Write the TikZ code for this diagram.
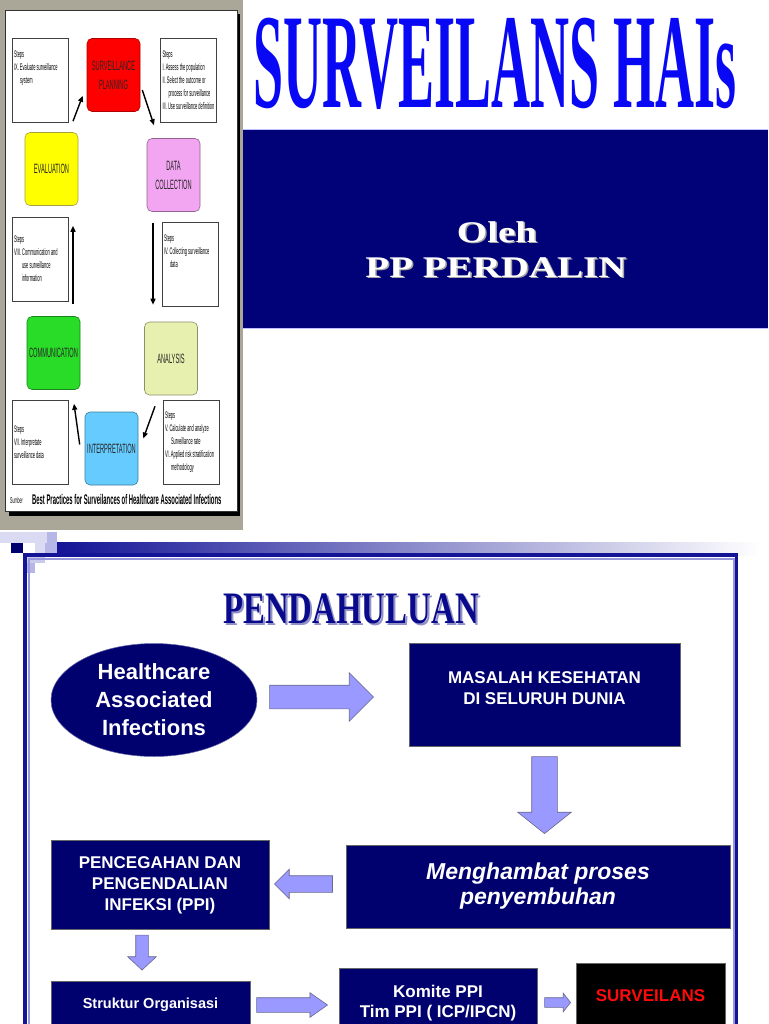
\documentclass[tikz,border=0pt]{standalone}
\usepackage{fontspec}
\setmainfont{Liberation Sans}
\newfontfamily\narrowfont[FakeStretch=0.42]{Liberation Sans}
\newfontfamily\titlefont[FakeStretch=0.4]{Liberation Serif}
\newfontfamily\olehfont[FakeStretch=1.3]{Liberation Serif}
\newfontfamily\headfont[FakeStretch=0.73]{Liberation Serif}
\definecolor{panelGray}{RGB}{170, 166, 152}
\definecolor{slideNavy}{RGB}{0, 0, 110}
\definecolor{bandNavy}{RGB}{2, 2, 120}
\definecolor{frameNavy}{RGB}{20, 20, 150}
\definecolor{frameLilac}{RGB}{150, 150, 220}
\definecolor{titleBlue}{RGB}{8, 8, 245}
\definecolor{headBlue}{RGB}{10, 10, 140}
\definecolor{arrowFill}{RGB}{153, 153, 255}
\definecolor{arrowEdge}{RGB}{105, 105, 140}
\definecolor{survRed}{RGB}{255, 10, 10}
\definecolor{cycRed}{RGB}{255, 0, 0}
\definecolor{cycYellow}{RGB}{255, 255, 0}
\definecolor{cycPink}{RGB}{242, 166, 242}
\definecolor{cycPale}{RGB}{232, 240, 176}
\definecolor{cycGreen}{RGB}{40, 220, 40}
\definecolor{cycBlue}{RGB}{102, 204, 255}
\usepackage{tikz}
\usetikzlibrary{positioning, calc, shapes.geometric, shapes.arrows, arrows.meta}
% text with a drop shadow: offset, shadow colour, text
\newcommand{\castshadow}[3]{\rlap{\kern#1\raisebox{-#1}{\textcolor{#2}{#3}}}#3}
% first line of a steps box, fixes the width of the text block
\newcommand{\stepshead}{\makebox[52pt][l]{Steps}}
\tikzset{
  stepbox/.style={rectangle, draw=black!75, fill=white, line width=0.6pt,
                  minimum width=56pt, minimum height=84pt, inner sep=1pt,
                  align=left, font=\narrowfont\fontsize{9.5}{13}\selectfont},
  cycbox/.style={rectangle, rounded corners=5pt, line width=0.6pt,
                 minimum width=53pt, minimum height=73pt, inner sep=1pt,
                 align=center, text=black!85,
                 font=\narrowfont\fontsize{13.5}{19}\selectfont},
  cycarrow/.style={-{Triangle[length=6pt, width=5pt]}, line width=1.4pt, black},
  navybox/.style={rectangle, draw=black!60, fill=slideNavy, text=white,
                  align=center, inner sep=2pt, line width=0.5pt},
  fatarrow/.style={single arrow, draw=arrowEdge, fill=arrowFill, line width=0.6pt,
                   inner xsep=0pt, single arrow head indent=0pt, anchor=tail},
}
\begin{document}
\begin{tikzpicture}[x=1pt, y=-1pt]
  \useasboundingbox (0,0) rectangle (768,1024);
  \clip (0,0) rectangle (768,1024);
  \fill[white] (0,0) rectangle (768,1024);

  % Left: surveillance cycle
  \fill[panelGray] (0,0) rectangle (243,530);
  \fill[black] (9,14) rectangle (240,516);
  \filldraw[fill=white, draw=black!80, line width=0.5pt] (5,10) rectangle (237,511);

  \node[stepbox] (stepsNine) at (40,80)
       {\stepshead\\IX. Evaluate surveillance\\\hspace*{6pt}system\\\mbox{}\\\mbox{}};
  \node[stepbox] (stepsOne) at (188.5,80)
       {\stepshead\\I. Assess the population\\II. Select the outcome or\\\hspace*{6pt}process for surveillance\\III. Use surveillance definition};
  \node[stepbox] (stepsEight) at (40,259)
       {\stepshead\\VIII. Communication and\\\hspace*{8pt}use surveillance\\\hspace*{8pt}information};
  \node[stepbox] (stepsFour) at (190,264)
       {\stepshead\\IV. Collecting surveillance\\\hspace*{6pt}data\\\mbox{}\\\mbox{}};
  \node[stepbox] (stepsSeven) at (40,442.5)
       {\stepshead\\VII. Interpretate\\surveillance data};
  \node[stepbox] (stepsFive) at (191,442.5)
       {\stepshead\\V. Calculate and analyze\\\hspace*{6pt}Surveillance rate\\VI. Applied risk stratification\\\hspace*{6pt}methodology};

  \node[cycbox, fill=cycRed, draw=red!70!black] (plan) at (113.5,75) {SURVEILLANCE\\PLANNING};
  \node[cycbox, fill=cycYellow, draw=yellow!60!black] (evalu) at (51.5,169) {EVALUATION};
  \node[cycbox, fill=cycPink, draw=cycPink!60!black] (collect) at (173.5,175) {DATA\\COLLECTION};
  \node[cycbox, fill=cycGreen, draw=cycGreen!60!black] (comm) at (53.5,353) {COMMUNICATION};
  \node[cycbox, fill=cycPale, draw=cycPale!60!black] (analyze) at (171,358.5) {ANALYSIS};
  \node[cycbox, fill=cycBlue, draw=cycBlue!60!black] (interp) at (111.5,448.5) {INTERPRETATION};

  % Cycle arrows
  \draw[cycarrow] ([xshift=21.5pt,yshift=11pt]evalu.north) -- ([xshift=-4pt,yshift=16pt]plan.south west);
  \draw[cycarrow] ([xshift=2pt,yshift=-15pt]plan.east) -- ([xshift=-19.5pt,yshift=13pt]collect.north);
  \draw[cycarrow] ([xshift=-20.5pt,yshift=-11pt]collect.south) -- ([xshift=-18pt,yshift=17pt]analyze.north);
  \draw[cycarrow] ([xshift=-16pt,yshift=-11pt]analyze.south) -- ([xshift=5pt,yshift=10pt]interp.east);
  \draw[cycarrow] ([xshift=-5pt,yshift=4pt]interp.west) -- ([xshift=20.5pt,yshift=-14pt]comm.south);
  \draw[cycarrow] ([xshift=19.5pt,yshift=12pt]comm.north) -- ([xshift=21.5pt,yshift=-20pt]evalu.south);

  \node[anchor=base west, inner sep=0, font=\narrowfont\fontsize{8.5}{8.5}\selectfont] (source) at (10,503) {Sumber};
  \node[anchor=base west, inner sep=0, font=\narrowfont\bfseries\fontsize{14}{14}\selectfont] (caption) at (32,504)
       {Best Practices for Surveilances of Healthcare Associated Infections};

  % Top right: title
  \node[anchor=base, inner sep=0, text=titleBlue, font=\titlefont\bfseries\fontsize{135}{135}\selectfont] (title) at (495,108) {SURVEILANS HAIs};
  \fill[bandNavy] (243,130) rectangle (768,328);
  \draw[blue!25, line width=1pt] (243,129.5) -- (768,129.5);
  \draw[blue!25, line width=1pt] (243,328.5) -- (768,328.5);
  \node[anchor=base, inner sep=0, text=white, font=\olehfont\bfseries\fontsize{30}{30}\selectfont] (oleh) at (497,242)
       {\castshadow{1.5pt}{gray!70}{Oleh}};
  \node[anchor=base, inner sep=0, text=white, font=\olehfont\bfseries\fontsize{30}{30}\selectfont] (perdalin) at (496,277)
       {\castshadow{1.5pt}{gray!70}{PP PERDALIN}};

  % Bottom: slide ornament and frame
  \fill[frameLilac!35] (0,532) rectangle (47,543);
  \fill[frameLilac!70] (47,532) rectangle (57,543);
  \fill[slideNavy] (11,543) rectangle (23,553);
  \fill[frameLilac!35] (35,543) rectangle (45,553);
  \fill[frameLilac!70] (45,543) rectangle (57,553);
  \shade[left color=frameNavy, middle color=frameNavy!55, right color=white] (57,542) rectangle (760,555);
  \fill[frameLilac!50] (27,557) rectangle (45,563);
  \fill[frameLilac!70] (27,563) rectangle (35,573);
  \draw[frameNavy, line width=3.5pt] (25,1040) -- (25,555) -- (736.5,555) -- (736.5,1040);
  \draw[frameLilac, line width=2pt] (28.5,1040) -- (28.5,558.5) -- (733.5,558.5) -- (733.5,1040);

  \node[anchor=base, inner sep=0, text=headBlue, font=\headfont\bfseries\fontsize{45}{45}\selectfont] (head) at (351,623)
       {\castshadow{2pt}{frameLilac!80!gray}{PENDAHULUAN}};

  % Flow boxes
  \node[ellipse, fill=slideNavy, draw=slideNavy!60, line width=0.5pt, minimum width=206pt, minimum height=113pt,
        text=white, align=center, font=\bfseries\fontsize{22}{28}\selectfont] (hai) at (154,700)
       {Healthcare\\Associated\\Infections};
  \node[navybox, minimum width=271pt, minimum height=103pt, text depth=12pt,
        font=\bfseries\fontsize{17}{21}\selectfont] (masalah) at (544.5,694.5)
       {MASALAH KESEHATAN\\DI SELURUH DUNIA};
  \node[navybox, minimum width=384pt, minimum height=83pt, font=\bfseries\itshape\fontsize{23}{25}\selectfont] (menghambat) at (538,886.5)
       {Menghambat proses\\penyembuhan};
  \node[navybox, minimum width=218pt, minimum height=89pt, font=\bfseries\fontsize{17}{21}\selectfont] (ppi) at (160,885)
       {PENCEGAHAN DAN\\PENGENDALIAN\\INFEKSI (PPI)};
  \node[navybox, minimum width=199pt, minimum height=48pt, font=\bfseries\fontsize{14.5}{17}\selectfont] (struktur) at (150.5,1005)
       {Struktur Organisasi};
  \node[navybox, minimum width=198pt, minimum height=70pt, font=\bfseries\fontsize{17}{20}\selectfont] (komite) at (438,1003)
       {Komite PPI\\Tim PPI ( ICP/IPCN)};
  \node[rectangle, fill=black, draw=black!60, minimum width=149pt, minimum height=66pt, text=survRed,
        font=\bfseries\fontsize{17}{20}\selectfont] (surv) at (650.5,996) {SURVEILANS};

  % Block arrows
  \node[fatarrow, minimum height=104pt, inner ysep=11.5pt, single arrow head extend=12.5pt,
        single arrow tip angle=90] (toMasalah) at ([xshift=12pt,yshift=3pt]hai.east) {};
  \node[fatarrow, rotate=-90, minimum height=77pt, inner ysep=12.5pt, single arrow head extend=14pt,
        single arrow tip angle=103] (toMenghambat) at ([yshift=-10pt]masalah.south) {};
  \node[fatarrow, rotate=180, minimum height=58pt, inner ysep=8pt, single arrow head extend=6.5pt,
        single arrow tip angle=90] (toPpi) at ([xshift=-13pt,yshift=2.5pt]menghambat.west) {};
  \node[fatarrow, rotate=-90, minimum height=35pt, inner ysep=6pt, single arrow head extend=8pt,
        single arrow tip angle=94] (toStruktur) at ([xshift=-18pt,yshift=-5pt]ppi.south) {};
  \node[fatarrow, minimum height=71pt, inner ysep=7pt, single arrow head extend=5pt,
        single arrow tip angle=70] (toKomite) at ([xshift=6pt]struktur.east) {};
  \node[fatarrow, minimum height=26pt, inner ysep=4.5pt, single arrow head extend=4.5pt,
        single arrow tip angle=104] (toSurv) at ([xshift=7pt,yshift=0.5pt]komite.east) {};
\end{tikzpicture}
\end{document}
